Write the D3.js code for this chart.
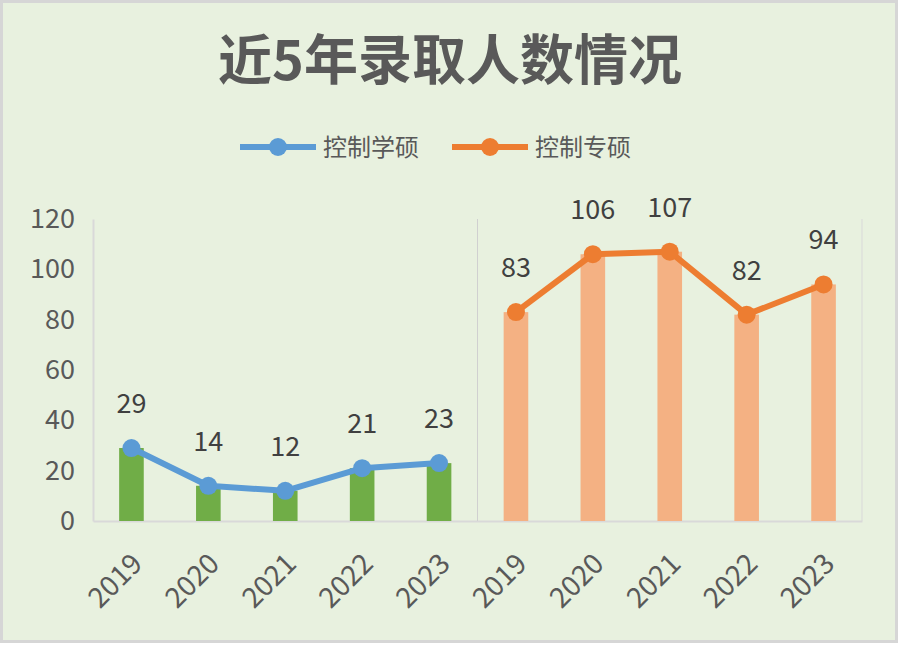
<!DOCTYPE html>
<html><head><meta charset="utf-8">
<script src="https://cdn.jsdelivr.net/npm/d3@7/dist/d3.min.js"></script>
<style>body{margin:0;background:#fff}</style></head>
<body><svg id="c" width="900" height="645"></svg>
<script>
const categories=["2019","2020","2021","2022","2023","2019","2020","2021","2022","2023"];
const xueshuo=[29,14,12,21,23];
const zhuanshuo=[83,106,107,82,94];
const yTicks=[0,20,40,60,80,100,120];
const svg=d3.select("#c");
const font="'Noto Sans CJK SC','Microsoft YaHei',sans-serif";
svg.append("rect").attr("x",1.5).attr("y",1.5).attr("width",895).attr("height",640).attr("fill","#e8f1df").attr("stroke","#d6d6d6").attr("stroke-width",3);
const L=93,R=862,T=219,B=521;
const idx=d3.range(categories.length);
const x=d3.scaleBand().domain(idx).range([L,R]).paddingInner(0.68).paddingOuter(0.34);
const y=d3.scaleLinear().domain([0,120]).range([B,T]);
svg.append("text").attr("x",450).attr("y",80).attr("text-anchor","middle").attr("font-family",font).attr("font-size",54).attr("font-weight","bold").attr("fill","#595959").text("近5年录取人数情况");
const ya=svg.append("g").attr("transform",`translate(${L},0)`).call(d3.axisLeft(y).tickValues(yTicks).tickSize(0).tickPadding(18));
ya.select(".domain").attr("stroke","#d9d9d9").attr("stroke-width",2);
ya.selectAll("text").attr("font-family",font).attr("font-size",27).attr("fill","#595959");
const xa=svg.append("g").attr("transform",`translate(0,${B})`).call(d3.axisBottom(x).tickFormat(i=>categories[i]).tickSize(0).tickPadding(18));
xa.select(".domain").attr("stroke","#d9d9d9").attr("stroke-width",2);
xa.selectAll("text").attr("font-family",font).attr("font-size",28).attr("fill","#595959")
 .attr("text-anchor","end").attr("transform","translate(-10,18) rotate(-45)").attr("dx","-0.1em").attr("dy","0.6em");
svg.append("line").attr("x1",R).attr("x2",R).attr("y1",T).attr("y2",B).attr("stroke","#d9d9d9");
const sep=(x(4)+x.bandwidth()+x(5))/2;
svg.append("line").attr("x1",sep).attr("x2",sep).attr("y1",T).attr("y2",B).attr("stroke","#d0d0d0");
const cx=i=>x(i)+x.bandwidth()/2;
svg.selectAll(".g").data(xueshuo).join("rect").attr("x",(d,i)=>x(i)).attr("y",d=>y(d)).attr("width",x.bandwidth()).attr("height",d=>B-y(d)).attr("fill","#70ad47");
svg.selectAll(".o").data(zhuanshuo).join("rect").attr("class","o").attr("x",(d,i)=>x(i+5)).attr("y",d=>y(d)).attr("width",x.bandwidth()).attr("height",d=>B-y(d)).attr("fill","#f4b183");
function series(data,off,color){
  const line=d3.line().x((d,i)=>cx(i+off)).y(d=>y(d));
  svg.append("path").attr("d",line(data)).attr("fill","none").attr("stroke",color).attr("stroke-width",6).attr("stroke-linejoin","round");
  svg.append("g").selectAll("circle").data(data).join("circle").attr("cx",(d,i)=>cx(i+off)).attr("cy",d=>y(d)).attr("r",9).attr("fill",color);
  svg.append("g").selectAll("text").data(data).join("text").attr("x",(d,i)=>cx(i+off)).attr("y",d=>y(d)-35).attr("text-anchor","middle")
   .attr("font-family",font).attr("font-size",27).attr("fill","#404040").text(d=>d);
}
series(xueshuo,0,"#5b9bd5");
series(zhuanshuo,5,"#ed7d31");
const leg=[{n:"控制学硕",c:"#5b9bd5",x:240},{n:"控制专硕",c:"#ed7d31",x:452}];
leg.forEach(l=>{
  svg.append("line").attr("x1",l.x).attr("x2",l.x+76).attr("y1",147).attr("y2",147).attr("stroke",l.c).attr("stroke-width",6);
  svg.append("circle").attr("cx",l.x+38).attr("cy",147).attr("r",9).attr("fill",l.c);
  svg.append("text").attr("x",l.x+83).attr("y",156).attr("font-family",font).attr("font-size",24).attr("fill","#595959").text(l.n);
});
</script></body></html>
